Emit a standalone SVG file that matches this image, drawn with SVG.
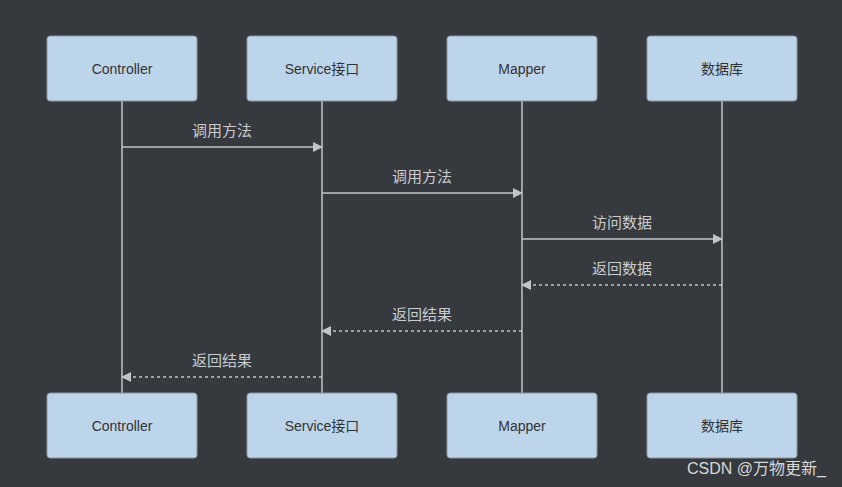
<svg xmlns="http://www.w3.org/2000/svg" width="842" height="487" viewBox="0 0 842 487">
<style>
.box{fill:#bdd5ea;stroke:#8d96a0;stroke-width:1}
.bt{font-family:"Liberation Sans","Noto Sans CJK SC",sans-serif;font-size:14px;fill:#333;text-anchor:middle}
.life{stroke:#c0c4c8;stroke-width:1.5}
.msg{stroke:#c0c4c8;stroke-width:1.5;fill:none}
.ret{stroke-dasharray:3,3}
.lt{font-family:"Liberation Sans","Noto Sans CJK SC",sans-serif;font-size:15px;fill:#c8ccd0;text-anchor:middle}
</style>
<defs><marker id="a" markerWidth="10" markerHeight="10" refX="9" refY="5" orient="auto" markerUnits="userSpaceOnUse"><path d="M0,0L10,5L0,10z" fill="#c0c4c8"/></marker></defs>
<rect width="842" height="487" fill="#363a3f"/>
<g id="connectors">
<line class="life" x1="122" y1="101" x2="122" y2="393"/>
<line class="life" x1="322" y1="101" x2="322" y2="393"/>
<line class="life" x1="522" y1="101" x2="522" y2="393"/>
<line class="life" x1="722" y1="101" x2="722" y2="393"/>
<line class="msg" x1="122" y1="147" x2="322" y2="147" marker-end="url(#a)"/>
<text class="lt" x="222" y="136">调用方法</text>
<line class="msg" x1="322" y1="193" x2="522" y2="193" marker-end="url(#a)"/>
<text class="lt" x="422" y="182">调用方法</text>
<line class="msg" x1="522" y1="239" x2="722" y2="239" marker-end="url(#a)"/>
<text class="lt" x="622" y="228">访问数据</text>
<line class="msg ret" x1="722" y1="285" x2="522" y2="285" marker-end="url(#a)"/>
<text class="lt" x="622" y="274">返回数据</text>
<line class="msg ret" x1="522" y1="331" x2="322" y2="331" marker-end="url(#a)"/>
<text class="lt" x="422" y="320">返回结果</text>
<line class="msg ret" x1="322" y1="377" x2="122" y2="377" marker-end="url(#a)"/>
<text class="lt" x="222" y="366">返回结果</text>
</g>
<g id="controller-top"><rect class="box" x="47" y="36" width="150" height="65" rx="3"/><text class="bt" x="122" y="74">Controller</text></g>
<g id="service-top"><rect class="box" x="247" y="36" width="150" height="65" rx="3"/><text class="bt" x="322" y="74">Service接口</text></g>
<g id="mapper-top"><rect class="box" x="447" y="36" width="150" height="65" rx="3"/><text class="bt" x="522" y="74">Mapper</text></g>
<g id="db-top"><rect class="box" x="647" y="36" width="150" height="65" rx="3"/><text class="bt" x="722" y="74">数据库</text></g>
<g id="controller-bottom"><rect class="box" x="47" y="393" width="150" height="65" rx="3"/><text class="bt" x="122" y="431">Controller</text></g>
<g id="service-bottom"><rect class="box" x="247" y="393" width="150" height="65" rx="3"/><text class="bt" x="322" y="431">Service接口</text></g>
<g id="mapper-bottom"><rect class="box" x="447" y="393" width="150" height="65" rx="3"/><text class="bt" x="522" y="431">Mapper</text></g>
<g id="db-bottom"><rect class="box" x="647" y="393" width="150" height="65" rx="3"/><text class="bt" x="722" y="431">数据库</text></g>
<text x="826" y="474" font-family="Liberation Sans,Noto Sans CJK SC,sans-serif" font-size="16" fill="#d8d8d8" text-anchor="end">CSDN @万物更新_</text>
</svg>
